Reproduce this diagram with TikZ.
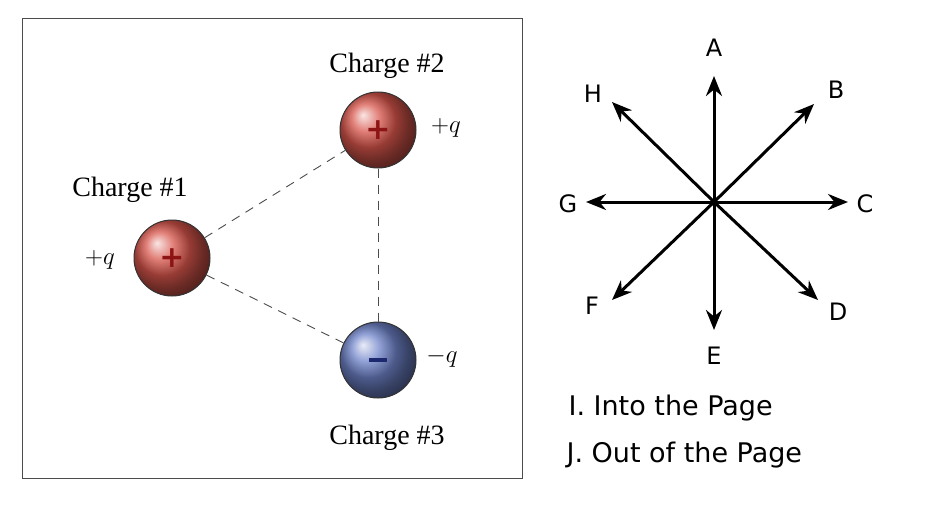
\documentclass[tikz,border=0pt]{standalone}
\usepackage{fontspec}
\setmainfont{DejaVu Sans}
\newfontfamily\serifx{Liberation Serif}
\usetikzlibrary{arrows.meta}
\begin{document}
\begin{tikzpicture}[x=1pt,y=-1pt,
 chg/.style={circle,minimum size=76pt,inner sep=0pt,draw=black!80,line width=1pt,shading=ball},
 poschg/.style={chg,ball color={rgb,255:red,215;green,85;blue,75}},
 negchg/.style={chg,ball color={rgb,255:red,110;green,130;blue,200}},
 chglab/.style={font=\serifx\fontsize{28}{30}\selectfont},
 dline/.style={dash pattern=on 9pt off 7pt,line width=0.9pt,black!70},
 comparr/.style={-{Stealth[length=20pt,width=16pt]},line width=3pt},
 dirlab/.style={font=\fontsize{24}{26}\selectfont}]
\useasboundingbox (0,0) rectangle (944,506);
\draw[line width=0.8pt,black!70] (22,18) rectangle (522,478);
\node[poschg] (c1) at (172,258) {};
\node[poschg] (c2) at (378,130) {};
\node[negchg] (c3) at (378,360) {};
\draw[dline] (c1) -- (c2);
\draw[dline] (c1) -- (c3);
\draw[dline] (c2) -- (c3);
\node[font=\bfseries\fontsize{30}{30}\selectfont,text={rgb,255:red,140;green,20;blue,20}] at (c1) {+};
\node[font=\bfseries\fontsize{30}{30}\selectfont,text={rgb,255:red,140;green,20;blue,20}] at (c2) {+};
\node[text={rgb,255:red,30;green,40;blue,110}] at (c3) {\rule{18pt}{4pt}};
\node[chglab] (l1) at (130,190) {Charge \#1};
\node[chglab] (l2) at (387,66) {Charge \#2};
\node[chglab] (l3) at (387,438) {Charge \#3};
\node[chglab] (q1) at (100,260) {$+q$};
\node[chglab] (q2) at (446,128) {$+q$};
\node[chglab] (q3) at (442,358) {$-q$};
\coordinate (o) at (714,202);
\coordinate (A) at (714,76);
\coordinate (B) at (814,104);
\coordinate (C) at (848,202);
\coordinate (D) at (818,300);
\coordinate (E) at (714,330);
\coordinate (F) at (612,300);
\coordinate (G) at (586,202);
\coordinate (H) at (612,102);
\foreach \p in {A,B,C,D,E,F,G,H} \draw[comparr] (o) -- (\p);
\node[dirlab] at (714,48) {A};
\node[dirlab] at (836,90) {B};
\node[dirlab] at (865,204) {C};
\node[dirlab] at (838,312) {D};
\node[dirlab] at (714,356) {E};
\node[dirlab] at (592,306) {F};
\node[dirlab] at (568,204) {G};
\node[dirlab] at (593,94) {H};
\node[font=\fontsize{27}{28}\selectfont,anchor=west] (ti) at (565,408) {I. Into the Page};
\node[font=\fontsize{27}{28}\selectfont,anchor=west] (tj) at (563,455) {J. Out of the Page};
\end{tikzpicture}
\end{document}
